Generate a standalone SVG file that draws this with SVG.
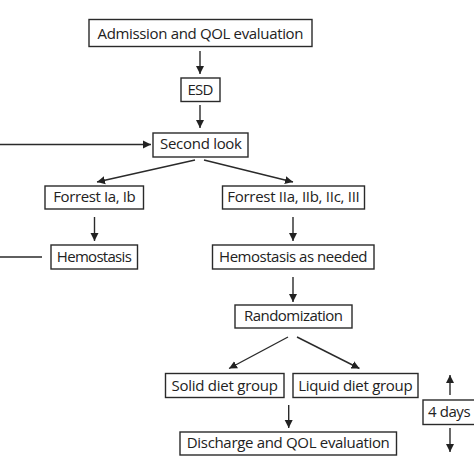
<svg xmlns="http://www.w3.org/2000/svg" width="474" height="474" viewBox="0 0 474 474">
<style>
rect.n{fill:#fff;stroke:#2a2a2a;stroke-width:1.4}
text{font-family:"Open Sans","Noto Sans",sans-serif;font-size:15px;fill:#222;text-anchor:middle}
.c line{stroke:#2a2a2a;stroke-width:1.4}
</style>
<defs>
<marker id="ah" viewBox="0 0 10 10" refX="10" refY="5" markerWidth="8" markerHeight="9" markerUnits="userSpaceOnUse" orient="auto">
<path d="M0,0 L10,5 L0,10 z" fill="#222"/>
</marker>
</defs>
<rect width="474" height="474" fill="#fff"/>
<g class="c">
<line x1="200" y1="51" x2="200" y2="74" marker-end="url(#ah)"/>
<line x1="200" y1="105" x2="200" y2="128" marker-end="url(#ah)"/>
<line x1="0" y1="144.5" x2="151" y2="144.5" marker-end="url(#ah)"/>
<line x1="195" y1="160" x2="97" y2="182" marker-end="url(#ah)"/>
<line x1="204" y1="160" x2="293" y2="182" marker-end="url(#ah)"/>
<line x1="94.5" y1="217" x2="94.5" y2="241" marker-end="url(#ah)"/>
<line x1="293" y1="217" x2="293" y2="241" marker-end="url(#ah)"/>
<line x1="0" y1="257" x2="42" y2="257"/>
<line x1="293" y1="277" x2="293" y2="302" marker-end="url(#ah)"/>
<line x1="288" y1="337" x2="229" y2="368.5" marker-end="url(#ah)"/>
<line x1="297" y1="337" x2="359.5" y2="368.5" marker-end="url(#ah)"/>
<line x1="288.7" y1="405" x2="288.7" y2="428" marker-end="url(#ah)"/>
<line x1="450" y1="395" x2="450" y2="375" marker-end="url(#ah)"/>
<line x1="450" y1="428" x2="450" y2="452" marker-end="url(#ah)"/>
</g>
<g id="admission"><rect class="n" x="89" y="19.5" width="223" height="27"/><text x="200.5" y="39" textLength="206">Admission and QOL evaluation</text></g>
<g id="esd"><rect class="n" x="181" y="78" width="39" height="23.5"/><text x="200.5" y="95" textLength="26">ESD</text></g>
<g id="second-look"><rect class="n" x="153" y="133" width="95" height="24"/><text x="201" y="149" textLength="82">Second look</text></g>
<g id="forrest-i"><rect class="n" x="45" y="186" width="98.5" height="23"/><text x="94.5" y="202" textLength="82.5">Forrest Ia, Ib</text></g>
<g id="forrest-ii"><rect class="n" x="222.5" y="186" width="142" height="23"/><text x="293.5" y="202" textLength="132.5">Forrest IIa, IIb, IIc, III</text></g>
<g id="hemostasis"><rect class="n" x="51" y="245" width="86.5" height="24"/><text x="94.3" y="261.7" textLength="75">Hemostasis</text></g>
<g id="hemostasis-needed"><rect class="n" x="212.5" y="245" width="161.5" height="24"/><text x="293.3" y="261.7" textLength="148.5">Hemostasis as needed</text></g>
<g id="randomization"><rect class="n" x="235" y="305" width="117" height="23"/><text x="293.5" y="321" textLength="99">Randomization</text></g>
<g id="solid"><rect class="n" x="165.5" y="373.5" width="118.5" height="24"/><text x="224.7" y="390.5" textLength="106.5">Solid diet group</text></g>
<g id="liquid"><rect class="n" x="293" y="373.5" width="125" height="24"/><text x="355.4" y="390.5" textLength="114.5">Liquid diet group</text></g>
<g id="discharge"><rect class="n" x="180" y="432" width="216.5" height="23"/><text x="288.3" y="448.3" textLength="203">Discharge and QOL evaluation</text></g>
<g id="four-days"><rect class="n" x="423" y="400" width="60" height="24.5"/><text x="449.3" y="417.3" textLength="42.5">4 days</text></g>
</svg>
